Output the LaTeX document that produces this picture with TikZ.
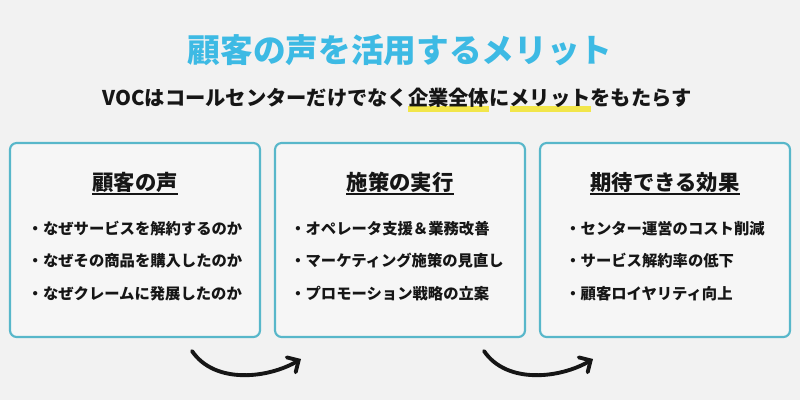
\documentclass[tikz,border=0pt]{standalone}
\usepackage{fontspec}
\setmainfont{Noto Sans CJK JP}[BoldFont={Noto Sans CJK JP Bold}]
\newfontfamily\jpheavy{Noto Sans CJK JP Black}
\usetikzlibrary{arrows.meta, positioning}
\definecolor{bgc}{HTML}{F2F2F2}
\definecolor{cardc}{HTML}{F6F6F6}
\definecolor{framec}{HTML}{58B7CA}
\definecolor{titlec}{HTML}{3DBAE4}
\definecolor{markc}{HTML}{F2E64A}
\definecolor{inkc}{HTML}{161616}
\tikzset{
  ttl/.style={font=\jpheavy\fontsize{24.5pt}{28pt}\selectfont, text=titlec, inner sep=0pt},
  lead/.style={font=\jpheavy\fontsize{15.2pt}{18pt}\selectfont, text=inkc, inner sep=0pt},
  card/.style={draw=framec, fill=cardc, line width=1.6pt, rounded corners=5pt,
               minimum width=187.5pt, minimum height=145.5pt, inner sep=0pt},
  head/.style={font=\jpheavy\fontsize{16pt}{19pt}\selectfont, text=inkc, inner xsep=0pt, inner ysep=1.2pt},
  uline/.style={draw=inkc, line width=1pt},
  items/.style={font=\jpheavy\fontsize{11.5pt}{24.4pt}\selectfont, text=inkc, align=left, inner sep=0pt},
  flow/.style={draw=inkc, line width=2.9pt, line cap=round,
               -{Straight Barb[length=6.5pt, width=13pt, line cap=round]}},
}
% yellow marker under a phrase
\newcommand{\hlmark}[1]{\setbox0\hbox{#1}\rlap{\color{markc}\rule[-0.36em]{\wd0}{0.32em}}\box0}

\begin{document}
\begin{tikzpicture}[x=0.75pt, y=-0.75pt]
\fill[bgc] (0,0) rectangle (800,400);
\useasboundingbox (0,0) rectangle (800,400);
% title and lead line
\node[ttl] (ttl) at (400,50) {顧客の声を活用するメリット};
\node[lead] (lead) at (397,100) {VOCはコールセンターだけでなく\hlmark{企業全体}に\hlmark{メリット}をもたらす};
% the three cards
\node[card] (c1) at (135,240) {};
\node[card] (c2) at (400,240) {};
\node[card] (c3) at (665,240) {};
\node[head] (h1) at (135,182) {顧客の声};
\node[head] (h2) at (400,182) {施策の実行};
\node[head] (h3) at (665,182) {期待できる効果};
\foreach \k in {1,2,3} {
  \draw[uline] (h\k.south west) -- (h\k.south east);
}
\node[items] (l1) at (135,261) {・なぜサービスを解約するのか\\・なぜその商品を購入したのか\\・なぜクレームに発展したのか};
\node[items] (l2) at (397,261) {・オペレータ支援＆業務改善\\・マーケティング施策の見直し\\・プロモーション戦略の立案};
\node[items] (l3) at (665,261) {・センター運営のコスト削減\\・サービス解約率の低下\\・顧客ロイヤリティ向上};
% curved arrows between the cards
\coordinate (a1s) at (192,351);
\coordinate (a1e) at (301,359);
\coordinate (a2s) at (484,351);
\coordinate (a2e) at (593,359);
\draw[flow] (a1s) .. controls +(23,34) and +(-32,19) .. (a1e);
\draw[flow] (a2s) .. controls +(23,34) and +(-32,19) .. (a2e);
\end{tikzpicture}
\end{document}
